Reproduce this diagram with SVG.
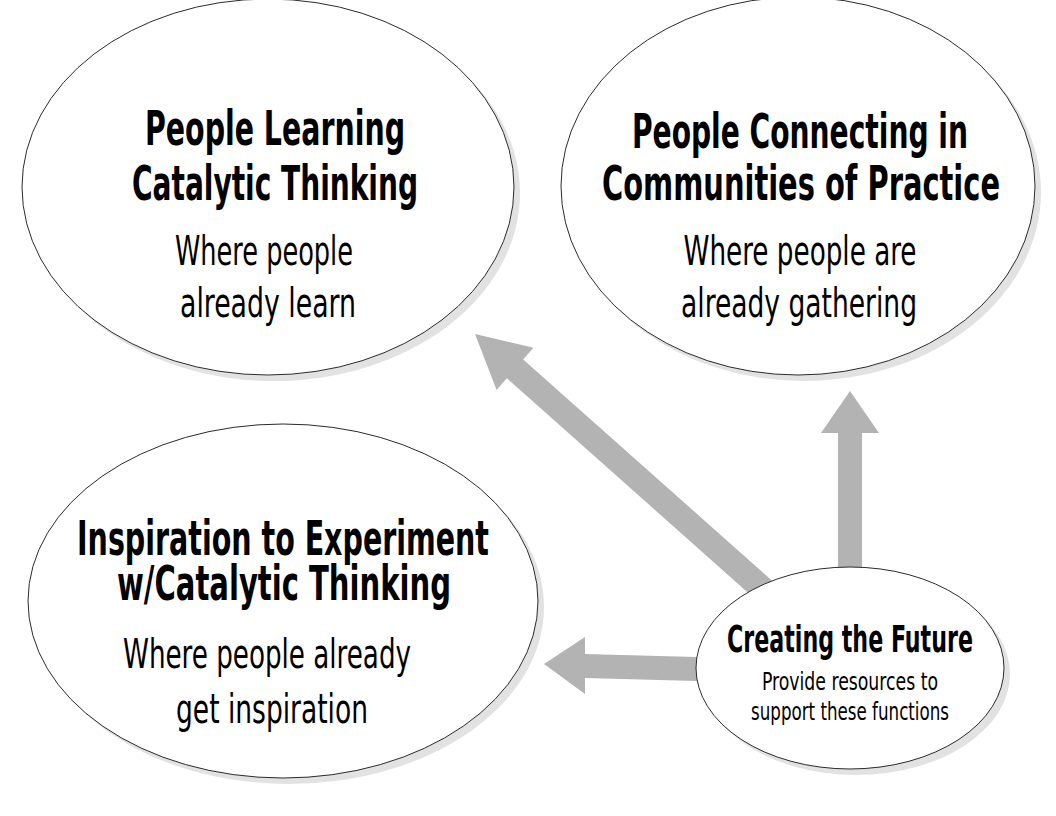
<svg xmlns="http://www.w3.org/2000/svg" width="1056" height="816" viewBox="0 0 1056 816">
<defs>
<style>
.bg{fill:#ffffff}
.shadow{fill:#e2e2e2}
.node{fill:#ffffff;stroke:#2a2a2a;stroke-width:1}
.arrow{fill:#b3b3b3;stroke:none}
.title{font-family:"Liberation Sans Narrow","DejaVu Sans Condensed","Liberation Sans",sans-serif;font-weight:bold;fill:#000;text-anchor:middle}
.sub{font-family:"Liberation Sans Narrow","DejaVu Sans Condensed","Liberation Sans",sans-serif;font-weight:normal;fill:#000;text-anchor:middle}
</style>
</defs>
<rect class="bg" x="0" y="0" width="1056" height="816"/>
<g id="connectors">
<polygon class="arrow" points="475,334 533.4,347.7 523.2,359.4 783.2,590.6 766.8,609.4 506.8,378.2 496.6,389.9"/>
<polygon class="arrow" points="850,391 879,433 862,433 862,585 838,585 838,433 821,433"/>
<polygon class="arrow" points="544,664 585,637 585,654 715,657.5 715,681.5 585,678 585,694"/>
</g>
<g id="node-learning">
<ellipse class="shadow" cx="274" cy="193" rx="246" ry="188"/>
<ellipse class="node" cx="268" cy="187" rx="246" ry="188"/>
<text class="title" x="275" y="145" font-size="48" textLength="260" lengthAdjust="spacingAndGlyphs">People Learning</text>
<text class="title" x="275" y="200" font-size="48" textLength="286" lengthAdjust="spacingAndGlyphs">Catalytic Thinking</text>
<text class="sub" x="264" y="265" font-size="40" textLength="178" lengthAdjust="spacingAndGlyphs">Where people</text>
<text class="sub" x="268" y="317" font-size="40" textLength="176" lengthAdjust="spacingAndGlyphs">already learn</text>
</g>
<g id="node-connecting">
<ellipse class="shadow" cx="804" cy="192" rx="237" ry="189"/>
<ellipse class="node" cx="798" cy="186" rx="237" ry="189"/>
<text class="title" x="800" y="148" font-size="48" textLength="336" lengthAdjust="spacingAndGlyphs">People Connecting in</text>
<text class="title" x="801" y="200" font-size="48" textLength="398" lengthAdjust="spacingAndGlyphs">Communities of Practice</text>
<text class="sub" x="800" y="265" font-size="40" textLength="233" lengthAdjust="spacingAndGlyphs">Where people are</text>
<text class="sub" x="799" y="317" font-size="40" textLength="236" lengthAdjust="spacingAndGlyphs">already gathering</text>
</g>
<g id="node-inspiration">
<ellipse class="shadow" cx="289" cy="607" rx="255" ry="177"/>
<ellipse class="node" cx="283" cy="601" rx="255" ry="177"/>
<text class="title" x="283" y="555" font-size="48" textLength="412" lengthAdjust="spacingAndGlyphs">Inspiration to Experiment</text>
<text class="title" x="284" y="600" font-size="48" textLength="334" lengthAdjust="spacingAndGlyphs">w/Catalytic Thinking</text>
<text class="sub" x="267" y="668" font-size="40" textLength="288" lengthAdjust="spacingAndGlyphs">Where people already</text>
<text class="sub" x="272" y="723" font-size="40" textLength="192" lengthAdjust="spacingAndGlyphs">get inspiration</text>
</g>
<g id="node-future">
<ellipse class="shadow" cx="856" cy="674" rx="154" ry="101"/>
<ellipse class="node" cx="850" cy="668" rx="154" ry="101"/>
<text class="title" x="850" y="652" font-size="38" textLength="246" lengthAdjust="spacingAndGlyphs">Creating the Future</text>
<text class="sub" x="850" y="690" font-size="25" textLength="176" lengthAdjust="spacingAndGlyphs">Provide resources to</text>
<text class="sub" x="850" y="720" font-size="25" textLength="198" lengthAdjust="spacingAndGlyphs">support these functions</text>
</g>
</svg>
